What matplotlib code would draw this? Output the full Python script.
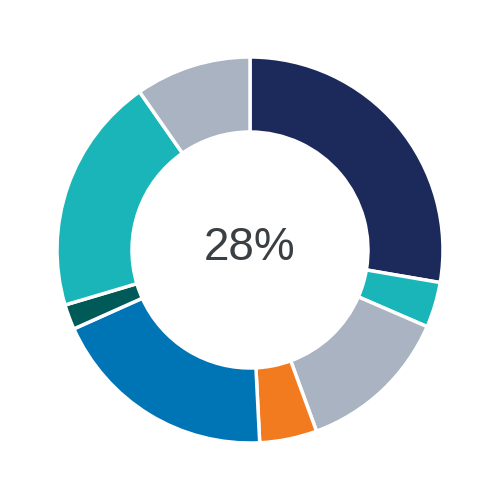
import matplotlib.pyplot as plt

# Valores de los segmentos (sentido horario desde arriba)
shares = [27.7, 3.8, 12.9, 4.8, 19.1, 2.1, 19.9, 9.7]
colors = ['#1b2a5a', '#1ab5b8', '#a9b3c1', '#f27b20',
          '#0075b5', '#005a57', '#1ab5b8', '#a9b3c1']
center_label = "28%"

fig = plt.figure(figsize=(5, 5), dpi=100)
ax = fig.add_axes([0, 0, 1, 1])

ax.pie(shares, colors=colors, startangle=90, counterclock=False,
       radius=0.772,
       wedgeprops=dict(width=0.30, edgecolor='white', linewidth=2.5))

ax.text(0, 0.01, center_label, ha='center', va='center',
        fontsize=33, color='#3a3f44', family='Liberation Sans')

ax.set_xlim(-1, 1)
ax.set_ylim(-1, 1)
ax.set_aspect('equal')
ax.axis('off')

fig.savefig('out.png', dpi=100, facecolor='white')
